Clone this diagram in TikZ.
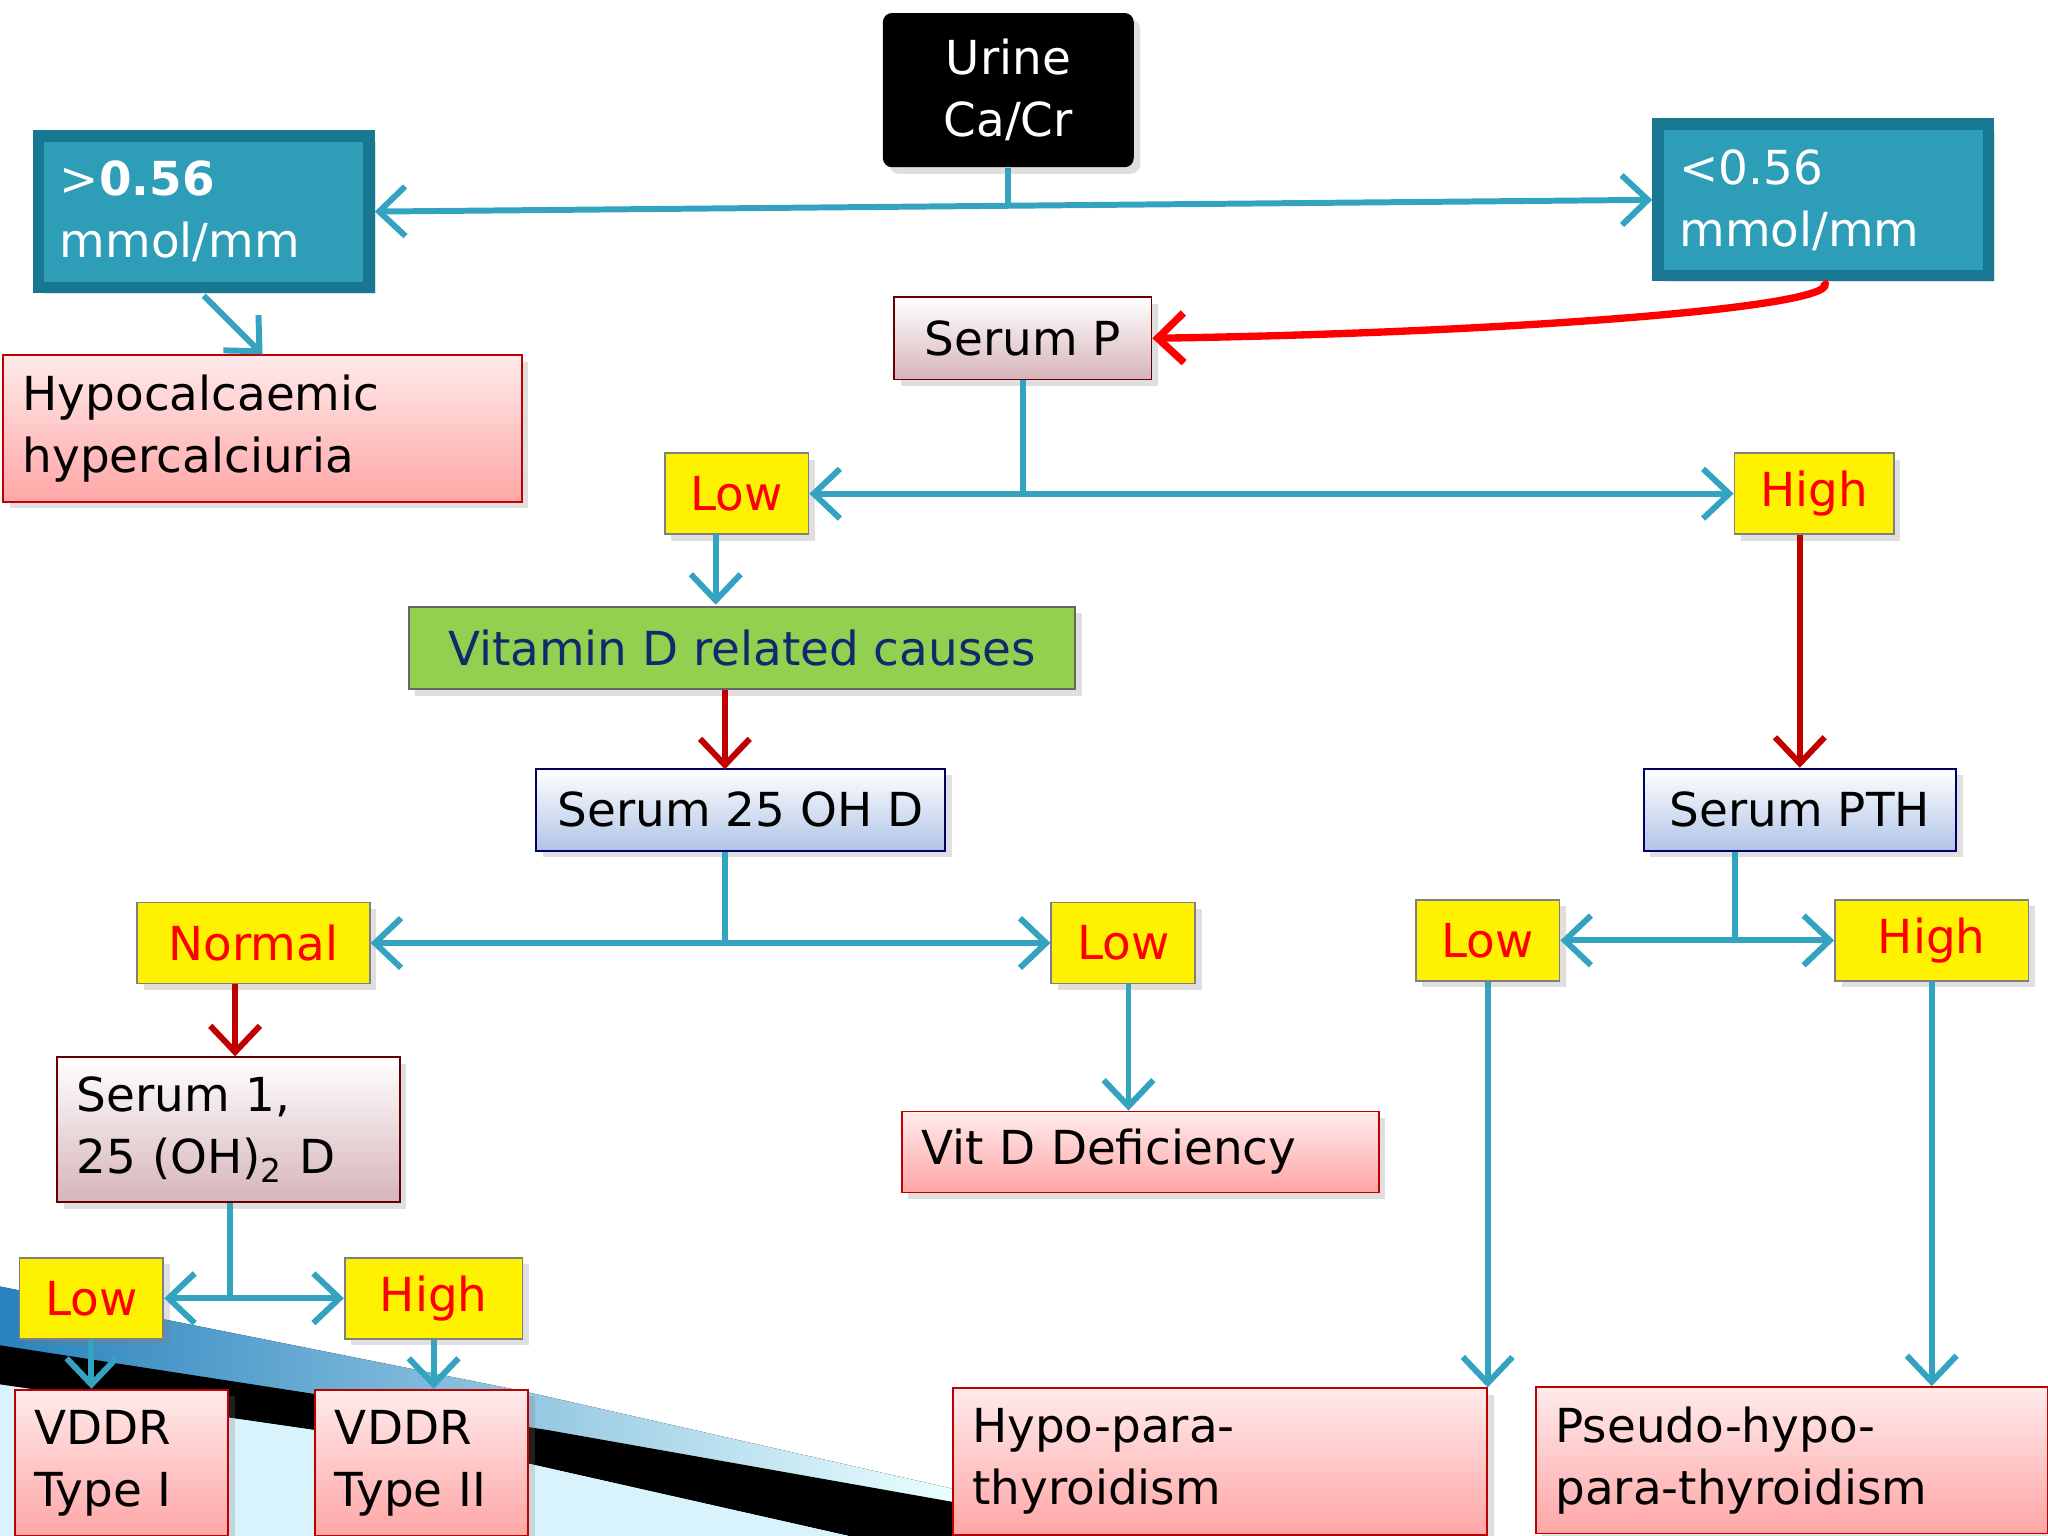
\documentclass[tikz,border=0pt]{standalone}
\usepackage{fontspec}
\setmainfont{DejaVu Sans}
\usetikzlibrary{arrows.meta,shadows}
\definecolor{tealline}{HTML}{34A3C0}
\definecolor{tealbox}{HTML}{2E9DB8}
\definecolor{darkred}{HTML}{C00000}
\tikzset{
	base/.style={font=\fontsize{10.2}{13.5}\selectfont, inner xsep=0.15cm, inner ysep=0pt, align=left, drop shadow={opacity=.25, shadow xshift=.05cm, shadow yshift=-.05cm}},
	lbl/.style={base, draw=black!50, fill=yellow, text=red, minimum width=#1, minimum height=.62cm},
	pinkbox/.style={base, draw=red!75!black, top color=red!8, bottom color=red!35, minimum height=1.12cm},
	greybox/.style={base, draw=red!40!black, top color=white, bottom color={rgb,255:red,214;green,180;blue,186}, minimum height=.63cm},
	bluebox/.style={base, draw=blue!40!black, top color=white, bottom color={rgb,255:red,176;green,196;blue,230}, minimum height=.63cm},
	tealbox/.style={base, draw={rgb,255:red,24;green,120;blue,146}, line width=2.5pt, fill=tealbox, text=white, minimum width=2.53cm, minimum height=1.16cm, text width=2.2cm},
	tip/.tip={Straight Barb[length=2mm,width=3.8mm]},
	tarr/.style={draw=tealline, line width=1.3pt, -tip},
	tboth/.style={draw=tealline, line width=1.3pt, tip-tip},
	tline/.style={draw=tealline, line width=1.3pt},
	rarr/.style={draw=darkred, line width=1.3pt, -tip}
}
\begin{document}
\begin{tikzpicture}[x=0.01cm,y=-0.01cm]
	\useasboundingbox (0,0) rectangle (1568,1176);
	% background wedge
	\fill[left color={rgb,255:red,40;green,130;blue,190}, right color=cyan!8] (0,985) -- (400,1065) -- (730,1140) -- (730,1176) -- (0,1176) -- cycle;
	\fill[black] (0,1030) -- (420,1095) -- (730,1150) -- (730,1176) -- (650,1176) -- (380,1115) -- (0,1060) -- cycle;
	\fill[cyan!15] (0,1060) -- (380,1115) -- (650,1176) -- (0,1176) -- cycle;

	\node[base, fill=black, text=white, align=center, minimum width=1.92cm, minimum height=1.18cm, rounded corners=2pt] (urine) at (772,69) {Urine\\Ca/Cr};
	\node[tealbox] (gt) at (156,162) {>\textbf{0.56}\\mmol/mm};
	\node[tealbox] (lt) at (1396,153) {<0.56\\mmol/mm};
	\node[pinkbox, minimum width=3.97cm, text width=3.67cm] (hypo) at (201,328) {Hypocalcaemic\\hypercalciuria};
	\node[greybox, minimum width=1.97cm] (serp) at (783,259) {Serum P};
	\node[lbl=1.10cm] (low1) at (564,378) {Low};
	\node[lbl=1.22cm] (high1) at (1389,378) {High};
	\node[base, draw=black!60, fill={rgb,255:red,146;green,208;blue,80}, text={rgb,255:red,20;green,40;blue,110}, minimum width=5.10cm, minimum height=.63cm] (vitd) at (568,496) {Vitamin D related causes};
	\node[bluebox, minimum width=3.13cm] (s25) at (567,620) {Serum 25 OH D};
	\node[bluebox, minimum width=2.39cm] (spth) at (1378,620) {Serum PTH};
	\node[lbl=1.78cm] (normal) at (194,722) {Normal};
	\node[lbl=1.10cm] (low2) at (860,722) {Low};
	\node[lbl=1.10cm] (low3) at (1139,720) {Low};
	\node[lbl=1.48cm] (high3) at (1479,720) {High};
	\node[greybox, minimum width=2.62cm, minimum height=1.11cm, text width=2.32cm] (s125) at (175,865) {Serum 1,\\25 (OH)\textsubscript{2} D};
	\node[pinkbox, minimum width=3.65cm, minimum height=.62cm, text width=3.35cm] (vdef) at (873,882) {Vit D Deficiency};
	\node[lbl=1.10cm] (low4) at (70,994) {Low};
	\node[lbl=1.36cm] (high4) at (332,994) {High};
	\node[pinkbox, minimum width=1.63cm, text width=1.33cm] (vddr1) at (93,1120) {VDDR\\Type I};
	\node[pinkbox, minimum width=1.63cm, text width=1.33cm] (vddr2) at (323,1120) {VDDR\\Type II};
	\node[pinkbox, minimum width=4.09cm, text width=3.79cm] (hpt) at (934,1119) {Hypo-para-\\thyroidism};
	\node[pinkbox, minimum width=3.92cm, text width=3.62cm] (pse) at (1372,1118) {Pseudo-hypo-\\para-thyroidism};

	% connectors
	\draw[tline] (urine.south) -- ++(0,29) coordinate (j1);
	\draw[tboth] (gt.east) -- (lt.west);
	\draw[tarr] (gt.south) ++(0,2) -- (hypo.north);
	\draw[draw=red, line width=1.6pt, -tip] (lt.south) .. controls (1420,235) and (1150,255) .. (serp.east);
	\draw[tline] (serp.south) -- (serp.south |- low1.east);
	\draw[tboth] (low1.east) -- (high1.west);
	\draw[tarr] (548,409) -- (548,463);
	\draw[rarr] (high1.south -| spth.north) -- (spth.north);
	\draw[rarr] (vitd.south -| 555,0) -- (555,589);
	\draw[tline] (s25.south -| 555,0) -- (555,722);
	\draw[tboth] (normal.east) -- (low2.west);
	\draw[rarr] (normal.south -| 180,0) -- (s125.north -| 180,0);
	\draw[tarr] (low2.south -| 864,0) -- (vdef.north -| 864,0);
	\draw[tline] (spth.south -| 1328,0) -- (1328,720);
	\draw[tboth] (low3.east) -- (high3.west);
	\draw[tarr] (low3.south) -- (hpt.north -| low3.south);
	\draw[tarr] (high3.south) -- (pse.north -| high3.south);
	\draw[tline] (s125.south -| 176,0) -- (176,994);
	\draw[tboth] (low4.east) -- (high4.west);
	\draw[tarr] (low4.south) -- (vddr1.north -| low4.south);
	\draw[tarr] (high4.south) -- (vddr2.north -| high4.south);
\end{tikzpicture}
\end{document}
